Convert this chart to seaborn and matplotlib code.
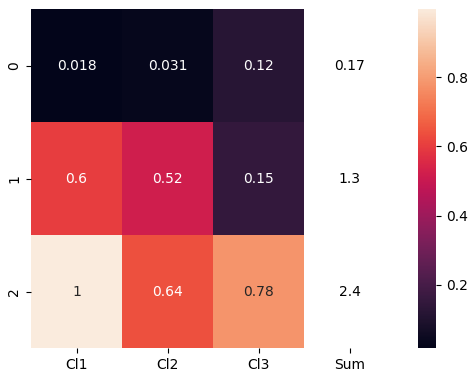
import numpy as np
import pandas as pd
import matplotlib

matplotlib.use("Agg")
import matplotlib.pyplot as plt
import seaborn as sns

# данные
columns = ["Cl1", "Cl2", "Cl3"]
rows = [0, 1, 2]
cl1 = [0.018, 0.6, 0.997]
cl2 = [0.031, 0.52, 0.64]
cl3 = [0.12, 0.15, 0.78]
sums = [0.17, 1.3, 2.4]

df = pd.DataFrame({"Cl1": cl1, "Cl2": cl2, "Cl3": cl3, "Sum": sums}, index=rows)

# маска: столбец Sum без цвета
mask = np.zeros(df.shape, dtype=bool)
mask[:, 3] = True

fig = plt.figure(figsize=(4.74, 3.8), dpi=100)
ax = fig.add_axes([0.0654, 0.0842, 0.768, 0.892])
cax = fig.add_axes([0.882, 0.0842, 0.038, 0.892])

sns.heatmap(df, mask=mask, annot=True, ax=ax, cbar_ax=cax)

# подписи сумм
for i, s in enumerate(df["Sum"]):
    ax.text(3.5, i + 0.5, f"{s:.2g}", ha="center", va="center", fontsize=10, color="black")

plt.savefig("out.png", dpi=100)
plt.close()
